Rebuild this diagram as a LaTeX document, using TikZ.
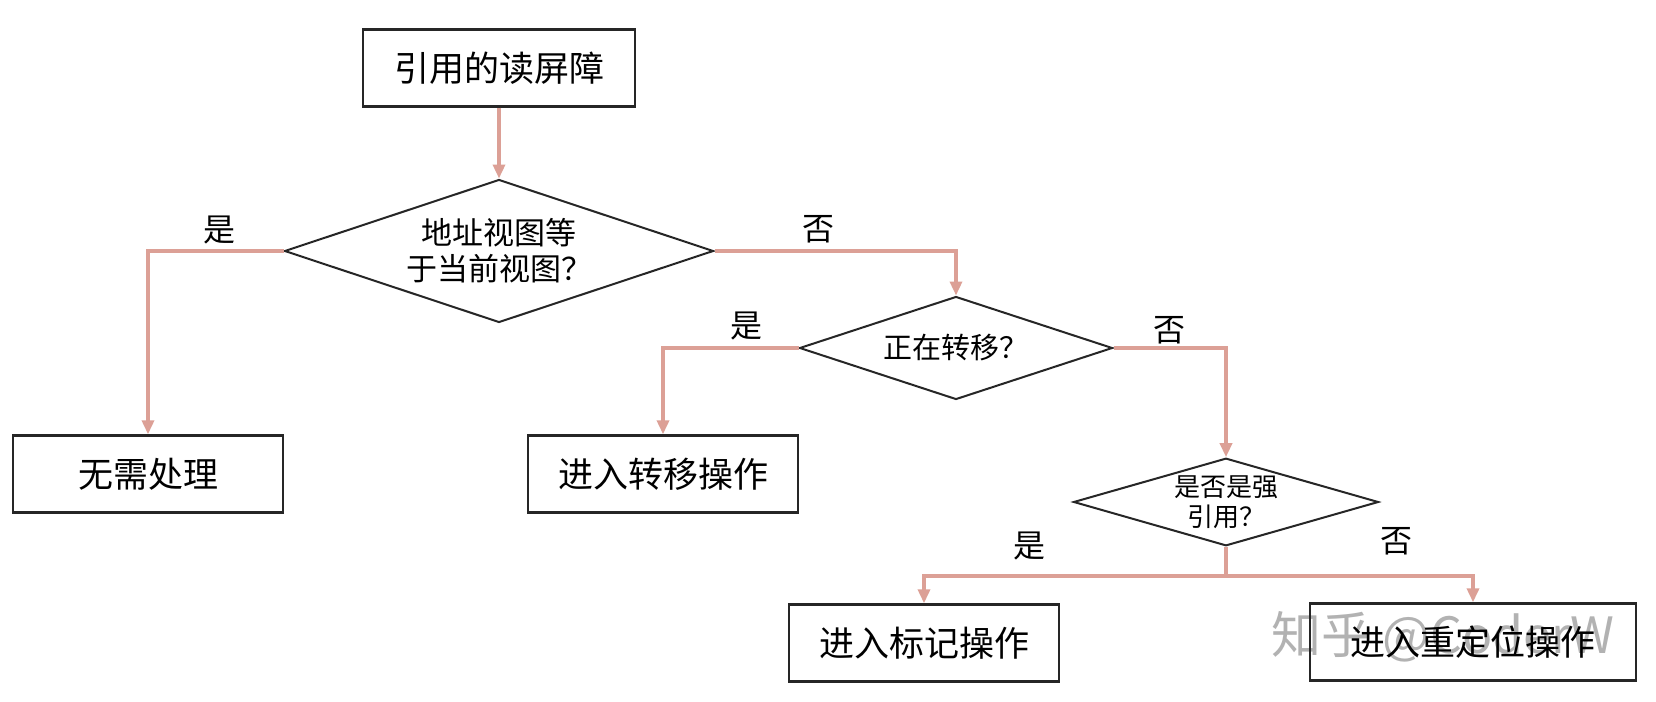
\documentclass[tikz,border=0pt]{standalone}
\usepackage{fontspec}
\setmainfont{Noto Sans CJK SC}
\usetikzlibrary{arrows.meta,shapes.geometric}
\tikzset {>={Triangle[width=6pt,length=7pt]}}
\definecolor{linkred}{RGB}{220,160,150}
\tikzset{
  box/.style={draw=black!85,line width=1.2pt,minimum height=38.5pt,inner sep=0pt,
    font=\fontsize{17.5}{21}\selectfont},
  decide/.style={diamond,draw=black!85,line width=1pt,inner sep=0pt,shape aspect=3,
    align=center},
  link/.style={draw=linkred,line width=1.7pt,->},
}
\newcommand*{\yn}[1]{{\fontsize{16}{18}\selectfont #1}}

\begin{document}
\begin{tikzpicture}[x=0.5pt,y=-0.5pt]
\fill[white] (0,0) rectangle (1656,702);
\useasboundingbox (0,0) rectangle (1656,702);
\node[text=black!30,font=\fontsize{25}{28}\selectfont] (mark) at (1443,637) {知乎 @CoderW};
\node[box,minimum width=136pt] (read) at (499,68) {引用的读屏障};
\node[decide,minimum width=214.5pt,minimum height=71.5pt,
  font=\fontsize{15.5}{18}\selectfont] (q1) at (499,251) {地址视图等\\于当前视图？};
\node[box,minimum width=135pt] (none) at (148,474) {无需处理};
\node[decide,minimum width=156.5pt,minimum height=51.5pt,
  font=\fontsize{14.5}{17}\selectfont] (q2) at (956,348) {正在转移？};
\node[box,minimum width=135pt] (move) at (663,474) {进入转移操作};
\node[decide,minimum width=152.5pt,minimum height=43.5pt,
  font=\fontsize{13}{15}\selectfont] (q3) at (1226,502) {是否是强\\引用？};
\node[box,minimum width=135pt] (tag) at (924,643) {进入标记操作};
\node[box,minimum width=163pt] (reloc) at (1473,642) {进入重定位操作};
\coordinate (split) at (1226,576);
\draw[link] (read) -- (q1);
\draw[link] (q1.west) -| (none.north);
\draw[link] (q1.east) -| (q2.north);
\draw[link] (q2.west) -| (move.north);
\draw[link] (q2.east) -| (q3.north);
\draw[link,-] (q3.south) -- (split);
\draw[link] (split) -| (tag.north);
\draw[link] (split) -| (reloc.north);
\node (y1) at (219,230) {\yn{是}};
\node (n1) at (818,229) {\yn{否}};
\node (y2) at (746,326) {\yn{是}};
\node (n2) at (1169,330) {\yn{否}};
\node (y3) at (1029,546) {\yn{是}};
\node (n3) at (1396,541) {\yn{否}};
\end{tikzpicture}
\end{document}
